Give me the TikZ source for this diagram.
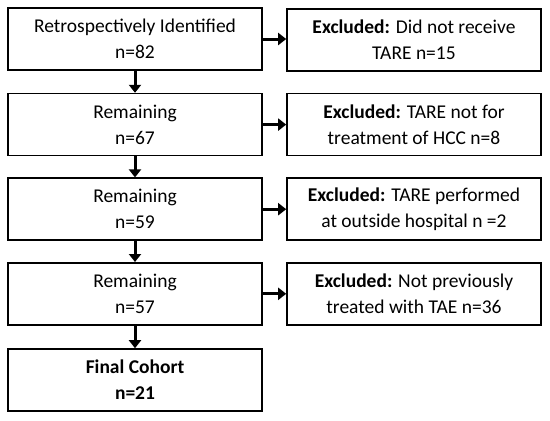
\documentclass[tikz,border=0pt]{standalone}
\usepackage{fontspec}
\setmainfont{Carlito}
\usetikzlibrary{arrows.meta}
\begin{document}
\begin{tikzpicture}[x=1pt,y=-1pt]

\def\gap{84.6}
\tikzstyle{block} = [
	draw, line width=1.6pt, rectangle, align=center,
	font=\fontsize{19.5}{25.7}\selectfont, inner sep=0pt,
	minimum width=254pt, minimum height=62pt ];
\tikzstyle{link} = [line width=3pt, -{Triangle[length=8pt,width=12pt]}];
\useasboundingbox (0,0) rectangle (550,421);

\node[block] (r0) at (135,39+0*\gap) {Retrospectively Identified\\n=82};
\node[block] (r1) at (135,40+1*\gap) {Remaining\\n=67};
\node[block] (r2) at (135,40+2*\gap) {Remaining\\n=59};
\node[block] (r3) at (135,40+3*\gap) {Remaining\\n=57};
\node[block] (r4) at (135,380) {\textbf{Final Cohort}\\\textbf{n=21}};

\node[block] (x0) at (414,40+0*\gap) {\textbf{Excluded:} Did not receive\\TARE n=15};
\node[block] (x1) at (414,40+1*\gap) {\textbf{Excluded:} TARE not for\\treatment of HCC n=8};
\node[block] (x2) at (414,40+2*\gap) {\textbf{Excluded:} TARE performed\\at outside hospital n =2};
\node[block] (x3) at (414,40+3*\gap) {\textbf{Excluded:} Not previously\\treated with TAE n=36};

\draw[link] (r0) -- (r1);
\draw[link] (r1) -- (r2);
\draw[link] (r2) -- (r3);
\draw[link] (r3) -- (r4);

\draw[link] (r0.east) -- (x0.west |- r0.east);
\draw[link] (r1.east) -- (x1.west |- r1.east);
\draw[link] (r2.east) -- (x2.west |- r2.east);
\draw[link] (r3.east) -- (x3.west |- r3.east);

\end{tikzpicture}
\end{document}
